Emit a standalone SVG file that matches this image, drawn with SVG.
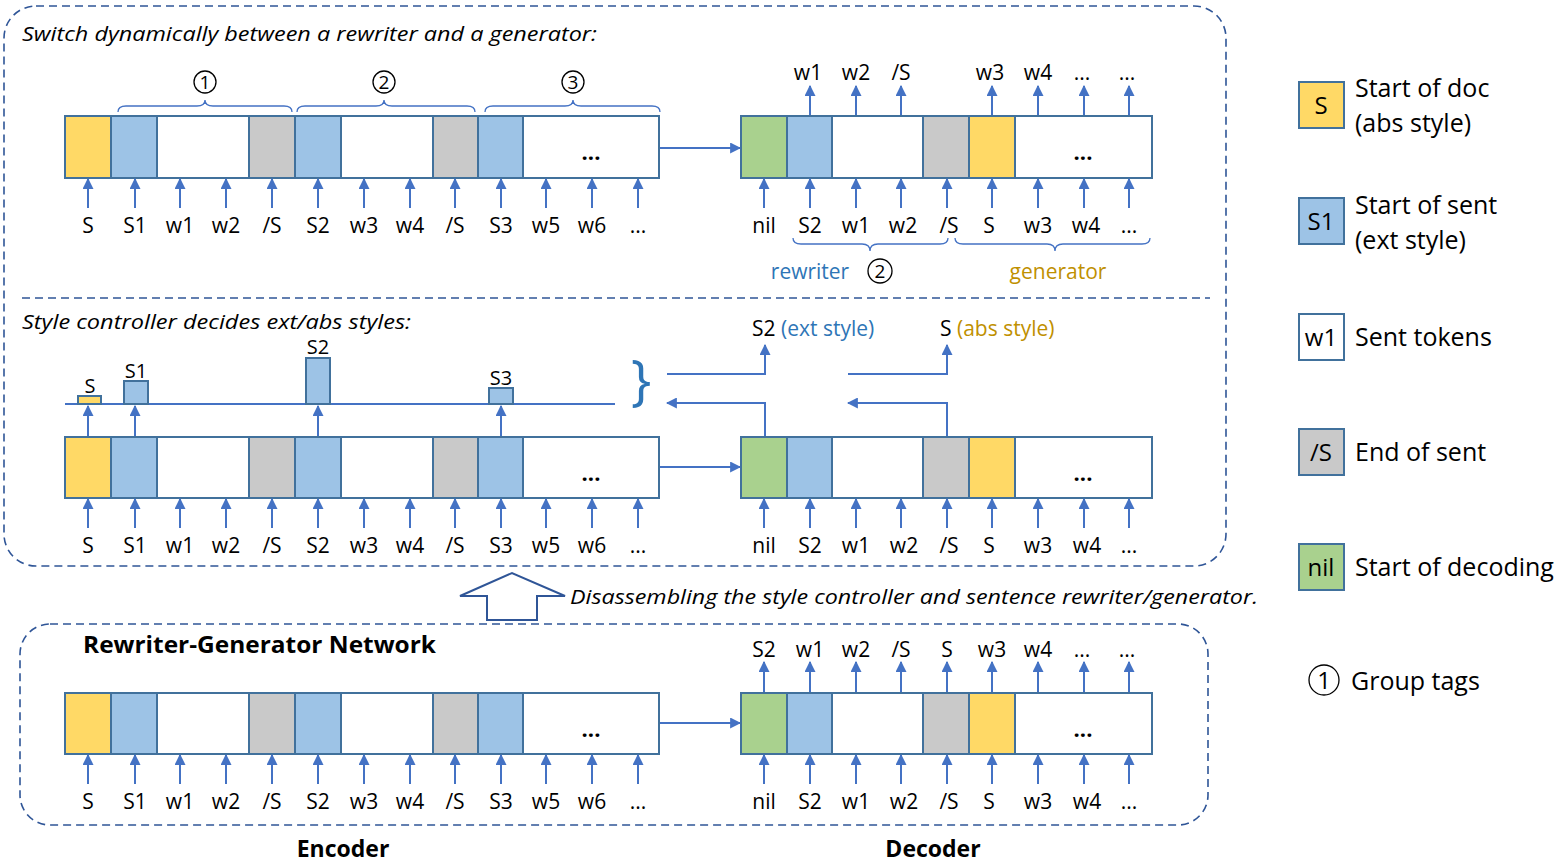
<svg xmlns="http://www.w3.org/2000/svg" width="1562" height="863" viewBox="0 0 1562 863">
<defs>
<marker id="ah" viewBox="0 0 10 10" refX="9" refY="5" markerWidth="11" markerHeight="11" markerUnits="userSpaceOnUse" orient="auto">
<path d="M0,0 L10,5 L0,10 z" fill="#4472C4"/>
</marker>
<style>
text{font-family:"Open Sans","Liberation Sans",sans-serif;fill:#000}
.lb{font-size:21px;text-anchor:middle}
.st{font-size:21px;text-anchor:start}
.it{font-style:italic;font-size:20px}
.bd{font-weight:bold}
.cell{stroke:#41719C;stroke-width:2}
.y{fill:#FFD966}.b{fill:#9DC3E6}.g{fill:#C9C9C9}.gr{fill:#A9D18E}.w{fill:#fff}
.ar{stroke:#4472C4;stroke-width:2;fill:none;marker-end:url(#ah)}
.ln{stroke:#4472C4;stroke-width:2;fill:none}
.dash{stroke:#2F5597;stroke-width:1.6;fill:none;stroke-dasharray:8 5}
.br{stroke:#4472C4;stroke-width:1.3;fill:none}
.circ{stroke:#000;stroke-width:1.3;fill:none}
.dig{font-size:19px;text-anchor:middle}
.dots{font-size:22px;font-weight:bold;text-anchor:middle}
.lg{font-size:25px}
.lgc{font-size:24px;text-anchor:middle}
</style>
</defs>

<!-- frames -->
<g id="frames">
<rect class="dash" x="4" y="6" width="1222" height="560" rx="32"/>
<line class="dash" x1="22" y1="298" x2="1210" y2="298"/>
<rect class="dash" x="20" y="624" width="1188" height="201" rx="30"/>
</g>

<!-- titles -->
<g id="titles">
<text class="it" x="22" y="41" textLength="575" lengthAdjust="spacingAndGlyphs">Switch dynamically between a rewriter and a generator:</text>
<text class="it" x="22" y="329" textLength="389" lengthAdjust="spacingAndGlyphs">Style controller decides ext/abs styles:</text>
<text class="bd" x="83" y="653" font-size="23" textLength="353" lengthAdjust="spacingAndGlyphs">Rewriter-Generator Network</text>
<text class="bd" x="343" y="857" font-size="23" text-anchor="middle">Encoder</text>
<text class="bd" x="933" y="857" font-size="23" text-anchor="middle">Decoder</text>
<text class="it" x="570" y="604" textLength="688" lengthAdjust="spacingAndGlyphs">Disassembling the style controller and sentence rewriter/generator.</text>
</g>

<!-- block arrow -->
<g id="block-arrow">
<polygon points="460,596 512,573 565,596 537,596 537,620 487,620 487,596" fill="#fff" stroke="#2F5597" stroke-width="2"/>
</g>

<!-- encoder row 1 -->
<g id="enc1">
<rect class="cell y" x="65" y="116" width="46" height="62"/>
<rect class="cell b" x="111" y="116" width="46" height="62"/>
<rect class="cell w" x="157" y="116" width="92" height="62"/>
<rect class="cell g" x="249" y="116" width="46" height="62"/>
<rect class="cell b" x="295" y="116" width="46" height="62"/>
<rect class="cell w" x="341" y="116" width="92" height="62"/>
<rect class="cell g" x="433" y="116" width="45" height="62"/>
<rect class="cell b" x="478" y="116" width="45" height="62"/>
<rect class="cell w" x="523" y="116" width="136" height="62"/>
<text class="dots" x="591" y="160">...</text>
</g>
<g id="dec1">
<rect class="cell gr" x="741" y="116" width="46" height="62"/>
<rect class="cell b" x="787" y="116" width="45" height="62"/>
<rect class="cell w" x="832" y="116" width="91" height="62"/>
<rect class="cell g" x="923" y="116" width="46" height="62"/>
<rect class="cell y" x="969" y="116" width="46" height="62"/>
<rect class="cell w" x="1015" y="116" width="137" height="62"/>
<text class="dots" x="1083" y="160">...</text>
</g>

<!-- encoder row 2 -->
<g id="enc2">
<rect class="cell y" x="65" y="437" width="46" height="61"/>
<rect class="cell b" x="111" y="437" width="46" height="61"/>
<rect class="cell w" x="157" y="437" width="92" height="61"/>
<rect class="cell g" x="249" y="437" width="46" height="61"/>
<rect class="cell b" x="295" y="437" width="46" height="61"/>
<rect class="cell w" x="341" y="437" width="92" height="61"/>
<rect class="cell g" x="433" y="437" width="45" height="61"/>
<rect class="cell b" x="478" y="437" width="45" height="61"/>
<rect class="cell w" x="523" y="437" width="136" height="61"/>
<text class="dots" x="591" y="481">...</text>
</g>
<g id="dec2">
<rect class="cell gr" x="741" y="437" width="46" height="61"/>
<rect class="cell b" x="787" y="437" width="45" height="61"/>
<rect class="cell w" x="832" y="437" width="91" height="61"/>
<rect class="cell g" x="923" y="437" width="46" height="61"/>
<rect class="cell y" x="969" y="437" width="46" height="61"/>
<rect class="cell w" x="1015" y="437" width="137" height="61"/>
<text class="dots" x="1083" y="481">...</text>
</g>

<!-- encoder row 3 -->
<g id="enc3">
<rect class="cell y" x="65" y="693" width="46" height="61"/>
<rect class="cell b" x="111" y="693" width="46" height="61"/>
<rect class="cell w" x="157" y="693" width="92" height="61"/>
<rect class="cell g" x="249" y="693" width="46" height="61"/>
<rect class="cell b" x="295" y="693" width="46" height="61"/>
<rect class="cell w" x="341" y="693" width="92" height="61"/>
<rect class="cell g" x="433" y="693" width="45" height="61"/>
<rect class="cell b" x="478" y="693" width="45" height="61"/>
<rect class="cell w" x="523" y="693" width="136" height="61"/>
<text class="dots" x="591" y="737">...</text>
</g>
<g id="dec3">
<rect class="cell gr" x="741" y="693" width="46" height="61"/>
<rect class="cell b" x="787" y="693" width="45" height="61"/>
<rect class="cell w" x="832" y="693" width="91" height="61"/>
<rect class="cell g" x="923" y="693" width="46" height="61"/>
<rect class="cell y" x="969" y="693" width="46" height="61"/>
<rect class="cell w" x="1015" y="693" width="137" height="61"/>
<text class="dots" x="1083" y="737">...</text>
</g>

<!-- style controller -->
<g id="style-controller">
<line class="ln" x1="65" y1="404" x2="615" y2="404"/>
<rect class="cell y" x="78" y="396" width="23" height="8" stroke-width="1.5"/>
<rect class="cell b" x="124" y="381" width="24" height="23" stroke-width="1.5"/>
<rect class="cell b" x="306" y="358" width="24" height="46" stroke-width="1.5"/>
<rect class="cell b" x="489" y="388" width="24" height="16" stroke-width="1.5"/>
<text class="lb" x="90" y="393" style="font-size:20px">S</text>
<text class="lb" x="136" y="378" style="font-size:20px">S1</text>
<text class="lb" x="318" y="354" style="font-size:20px">S2</text>
<text class="lb" x="501" y="385" style="font-size:20px">S3</text>
<text x="641" y="399" style="font-size:54px;fill:#2E75B6;text-anchor:middle">}</text>
<text class="st" x="752" y="336">S2 <tspan style="fill:#2E75B6">(ext style)</tspan></text>
<text class="st" x="940" y="336">S <tspan style="fill:#BF9000">(abs style)</tspan></text>
</g>

<!-- braces and group tags -->
<g id="groups">
<path class="br" d="M118,112 Q118,106 126,106 H197 Q205,106 205,100 Q205,106 213,106 H284 Q292,106 292,112"/>
<path class="br" d="M297,112 Q297,106 305,106 H376 Q384,106 384,100 Q384,106 392,106 H467 Q475,106 475,112"/>
<path class="br" d="M485,112 Q485,106 493,106 H565 Q573,106 573,100 Q573,106 581,106 H652 Q660,106 660,112"/>
<circle class="circ" cx="205" cy="82" r="11"/><text class="dig" x="205" y="89">1</text>
<circle class="circ" cx="384" cy="82" r="11"/><text class="dig" x="384" y="89">2</text>
<circle class="circ" cx="573" cy="82" r="11"/><text class="dig" x="573" y="89">3</text>
<path class="br" d="M793,238 Q793,244 801,244 H862 Q870,244 870,251 Q870,244 878,244 H940 Q948,244 948,238"/>
<path class="br" d="M955,238 Q955,244 963,244 H1047 Q1055,244 1055,251 Q1055,244 1063,244 H1142 Q1150,244 1150,238"/>
<text class="lb" x="810" y="279" style="fill:#2E75B6">rewriter</text>
<circle class="circ" cx="880" cy="271" r="12"/><text class="dig" x="880" y="278">2</text>
<text class="lb" x="1058" y="279" style="fill:#BF9000">generator</text>
</g>

<!-- token labels -->
<g id="labels">
<text class="lb" x="88" y="233">S</text><text class="lb" x="135" y="233">S1</text><text class="lb" x="180" y="233">w1</text><text class="lb" x="226" y="233">w2</text><text class="lb" x="272" y="233">/S</text><text class="lb" x="318" y="233">S2</text><text class="lb" x="364" y="233">w3</text><text class="lb" x="410" y="233">w4</text><text class="lb" x="455" y="233">/S</text><text class="lb" x="501" y="233">S3</text><text class="lb" x="546" y="233">w5</text><text class="lb" x="592" y="233">w6</text><text class="lb" x="638" y="233">...</text>
<text class="lb" x="764" y="233">nil</text><text class="lb" x="810" y="233">S2</text><text class="lb" x="856" y="233">w1</text><text class="lb" x="903" y="233">w2</text><text class="lb" x="949" y="233">/S</text><text class="lb" x="989" y="233">S</text><text class="lb" x="1038" y="233">w3</text><text class="lb" x="1086" y="233">w4</text><text class="lb" x="1129" y="233">...</text>
<text class="lb" x="808" y="80">w1</text><text class="lb" x="856" y="80">w2</text><text class="lb" x="901" y="80">/S</text><text class="lb" x="990" y="80">w3</text><text class="lb" x="1038" y="80">w4</text><text class="lb" x="1082" y="80">...</text><text class="lb" x="1127" y="80">...</text>

<text class="lb" x="88" y="553">S</text><text class="lb" x="135" y="553">S1</text><text class="lb" x="180" y="553">w1</text><text class="lb" x="226" y="553">w2</text><text class="lb" x="272" y="553">/S</text><text class="lb" x="318" y="553">S2</text><text class="lb" x="364" y="553">w3</text><text class="lb" x="410" y="553">w4</text><text class="lb" x="455" y="553">/S</text><text class="lb" x="501" y="553">S3</text><text class="lb" x="546" y="553">w5</text><text class="lb" x="592" y="553">w6</text><text class="lb" x="638" y="553">...</text>
<text class="lb" x="764" y="553">nil</text><text class="lb" x="810" y="553">S2</text><text class="lb" x="856" y="553">w1</text><text class="lb" x="904" y="553">w2</text><text class="lb" x="949" y="553">/S</text><text class="lb" x="989" y="553">S</text><text class="lb" x="1038" y="553">w3</text><text class="lb" x="1087" y="553">w4</text><text class="lb" x="1129" y="553">...</text>

<text class="lb" x="88" y="809">S</text><text class="lb" x="135" y="809">S1</text><text class="lb" x="180" y="809">w1</text><text class="lb" x="226" y="809">w2</text><text class="lb" x="272" y="809">/S</text><text class="lb" x="318" y="809">S2</text><text class="lb" x="364" y="809">w3</text><text class="lb" x="410" y="809">w4</text><text class="lb" x="455" y="809">/S</text><text class="lb" x="501" y="809">S3</text><text class="lb" x="546" y="809">w5</text><text class="lb" x="592" y="809">w6</text><text class="lb" x="638" y="809">...</text>
<text class="lb" x="764" y="809">nil</text><text class="lb" x="810" y="809">S2</text><text class="lb" x="856" y="809">w1</text><text class="lb" x="904" y="809">w2</text><text class="lb" x="949" y="809">/S</text><text class="lb" x="989" y="809">S</text><text class="lb" x="1038" y="809">w3</text><text class="lb" x="1087" y="809">w4</text><text class="lb" x="1129" y="809">...</text>
<text class="lb" x="764" y="657">S2</text><text class="lb" x="810" y="657">w1</text><text class="lb" x="856" y="657">w2</text><text class="lb" x="901" y="657">/S</text><text class="lb" x="947" y="657">S</text><text class="lb" x="992" y="657">w3</text><text class="lb" x="1038" y="657">w4</text><text class="lb" x="1082" y="657">...</text><text class="lb" x="1127" y="657">...</text>
</g>

<!-- connectors -->
<g id="connectors">
<line class="ar" x1="88" y1="208" x2="88" y2="179"/><line class="ar" x1="135" y1="208" x2="135" y2="179"/><line class="ar" x1="180" y1="208" x2="180" y2="179"/><line class="ar" x1="226" y1="208" x2="226" y2="179"/><line class="ar" x1="272" y1="208" x2="272" y2="179"/><line class="ar" x1="318" y1="208" x2="318" y2="179"/><line class="ar" x1="364" y1="208" x2="364" y2="179"/><line class="ar" x1="410" y1="208" x2="410" y2="179"/><line class="ar" x1="455" y1="208" x2="455" y2="179"/><line class="ar" x1="501" y1="208" x2="501" y2="179"/><line class="ar" x1="546" y1="208" x2="546" y2="179"/><line class="ar" x1="592" y1="208" x2="592" y2="179"/><line class="ar" x1="638" y1="208" x2="638" y2="179"/>
<line class="ar" x1="764" y1="208" x2="764" y2="179"/><line class="ar" x1="810" y1="208" x2="810" y2="179"/><line class="ar" x1="856" y1="208" x2="856" y2="179"/><line class="ar" x1="901" y1="208" x2="901" y2="179"/><line class="ar" x1="947" y1="208" x2="947" y2="179"/><line class="ar" x1="992" y1="208" x2="992" y2="179"/><line class="ar" x1="1038" y1="208" x2="1038" y2="179"/><line class="ar" x1="1084" y1="208" x2="1084" y2="179"/><line class="ar" x1="1129" y1="208" x2="1129" y2="179"/>
<line class="ar" x1="810" y1="115" x2="810" y2="86"/><line class="ar" x1="856" y1="115" x2="856" y2="86"/><line class="ar" x1="901" y1="115" x2="901" y2="86"/><line class="ar" x1="992" y1="115" x2="992" y2="86"/><line class="ar" x1="1038" y1="115" x2="1038" y2="86"/><line class="ar" x1="1084" y1="115" x2="1084" y2="86"/><line class="ar" x1="1129" y1="115" x2="1129" y2="86"/>
<line class="ar" x1="660" y1="148" x2="740" y2="148"/>

<line class="ar" x1="88" y1="528" x2="88" y2="499"/><line class="ar" x1="135" y1="528" x2="135" y2="499"/><line class="ar" x1="180" y1="528" x2="180" y2="499"/><line class="ar" x1="226" y1="528" x2="226" y2="499"/><line class="ar" x1="272" y1="528" x2="272" y2="499"/><line class="ar" x1="318" y1="528" x2="318" y2="499"/><line class="ar" x1="364" y1="528" x2="364" y2="499"/><line class="ar" x1="410" y1="528" x2="410" y2="499"/><line class="ar" x1="455" y1="528" x2="455" y2="499"/><line class="ar" x1="501" y1="528" x2="501" y2="499"/><line class="ar" x1="546" y1="528" x2="546" y2="499"/><line class="ar" x1="592" y1="528" x2="592" y2="499"/><line class="ar" x1="638" y1="528" x2="638" y2="499"/>
<line class="ar" x1="764" y1="528" x2="764" y2="499"/><line class="ar" x1="810" y1="528" x2="810" y2="499"/><line class="ar" x1="856" y1="528" x2="856" y2="499"/><line class="ar" x1="901" y1="528" x2="901" y2="499"/><line class="ar" x1="947" y1="528" x2="947" y2="499"/><line class="ar" x1="992" y1="528" x2="992" y2="499"/><line class="ar" x1="1038" y1="528" x2="1038" y2="499"/><line class="ar" x1="1084" y1="528" x2="1084" y2="499"/><line class="ar" x1="1129" y1="528" x2="1129" y2="499"/>
<line class="ar" x1="88" y1="436" x2="88" y2="406"/><line class="ar" x1="135" y1="436" x2="135" y2="406"/><line class="ar" x1="318" y1="436" x2="318" y2="406"/><line class="ar" x1="501" y1="436" x2="501" y2="406"/>
<line class="ar" x1="660" y1="467" x2="740" y2="467"/>
<path class="ar" d="M667,374 H765 V345"/>
<path class="ar" d="M765,436 V403 H667"/>
<path class="ar" d="M848,374 H947 V345"/>
<path class="ar" d="M947,436 V403 H848"/>

<line class="ar" x1="88" y1="784" x2="88" y2="755"/><line class="ar" x1="135" y1="784" x2="135" y2="755"/><line class="ar" x1="180" y1="784" x2="180" y2="755"/><line class="ar" x1="226" y1="784" x2="226" y2="755"/><line class="ar" x1="272" y1="784" x2="272" y2="755"/><line class="ar" x1="318" y1="784" x2="318" y2="755"/><line class="ar" x1="364" y1="784" x2="364" y2="755"/><line class="ar" x1="410" y1="784" x2="410" y2="755"/><line class="ar" x1="455" y1="784" x2="455" y2="755"/><line class="ar" x1="501" y1="784" x2="501" y2="755"/><line class="ar" x1="546" y1="784" x2="546" y2="755"/><line class="ar" x1="592" y1="784" x2="592" y2="755"/><line class="ar" x1="638" y1="784" x2="638" y2="755"/>
<line class="ar" x1="764" y1="784" x2="764" y2="755"/><line class="ar" x1="810" y1="784" x2="810" y2="755"/><line class="ar" x1="856" y1="784" x2="856" y2="755"/><line class="ar" x1="901" y1="784" x2="901" y2="755"/><line class="ar" x1="947" y1="784" x2="947" y2="755"/><line class="ar" x1="992" y1="784" x2="992" y2="755"/><line class="ar" x1="1038" y1="784" x2="1038" y2="755"/><line class="ar" x1="1084" y1="784" x2="1084" y2="755"/><line class="ar" x1="1129" y1="784" x2="1129" y2="755"/>
<line class="ar" x1="764" y1="692" x2="764" y2="662"/><line class="ar" x1="810" y1="692" x2="810" y2="662"/><line class="ar" x1="856" y1="692" x2="856" y2="662"/><line class="ar" x1="901" y1="692" x2="901" y2="662"/><line class="ar" x1="947" y1="692" x2="947" y2="662"/><line class="ar" x1="992" y1="692" x2="992" y2="662"/><line class="ar" x1="1038" y1="692" x2="1038" y2="662"/><line class="ar" x1="1084" y1="692" x2="1084" y2="662"/><line class="ar" x1="1129" y1="692" x2="1129" y2="662"/>
<line class="ar" x1="660" y1="723" x2="740" y2="723"/>
</g>

<!-- legend -->
<g id="legend-doc">
<rect class="cell y" x="1299" y="82" width="45" height="46" stroke-width="1.5"/>
<text class="lgc" x="1321" y="114">S</text>
<text class="lg" x="1355" y="97">Start of doc</text>
<text class="lg" x="1355" y="132">(abs style)</text>
</g>
<g id="legend-sent">
<rect class="cell b" x="1299" y="198" width="45" height="46" stroke-width="1.5"/>
<text class="lgc" x="1321" y="230">S1</text>
<text class="lg" x="1355" y="214">Start of sent</text>
<text class="lg" x="1355" y="249">(ext style)</text>
</g>
<g id="legend-tok">
<rect class="cell w" x="1299" y="314" width="45" height="46" stroke-width="1.5"/>
<text class="lgc" x="1321" y="346">w1</text>
<text class="lg" x="1355" y="346">Sent tokens</text>
</g>
<g id="legend-end">
<rect class="cell g" x="1299" y="429" width="45" height="46" stroke-width="1.5"/>
<text class="lgc" x="1321" y="461">/S</text>
<text class="lg" x="1355" y="461">End of sent</text>
</g>
<g id="legend-nil">
<rect class="cell gr" x="1299" y="544" width="45" height="46" stroke-width="1.5"/>
<text class="lgc" x="1321" y="576">nil</text>
<text class="lg" x="1355" y="576">Start of decoding</text>
</g>
<g id="legend-group">
<circle class="circ" cx="1324" cy="680" r="15"/>
<text class="lgc" x="1324" y="689">1</text>
<text class="lg" x="1351" y="690">Group tags</text>
</g>
</svg>
